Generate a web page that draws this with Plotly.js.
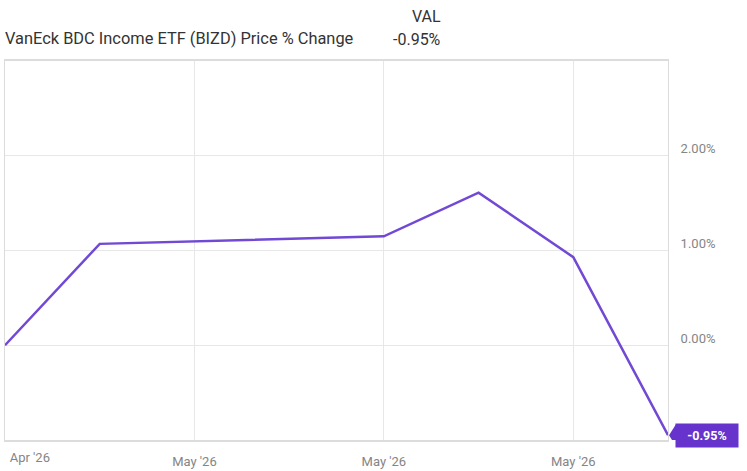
<!DOCTYPE html>
<html>
<head>
<meta charset="utf-8">
<script src="https://cdn.plot.ly/plotly-3.0.1.min.js"></script>
<style>
  html, body { margin: 0; padding: 0; background: #fff; }
  #chart { width: 747px; height: 471px; }
</style>
</head>
<body>
<div id="chart"></div>
<script>
// weekly closes, % change since start
var dates = ['2026-04-17', '2026-04-24', '2026-05-15', '2026-05-22', '2026-05-29', '2026-06-05']
var pctChange = [0, 1.07, 1.15, 1.61, 0.93, -0.95]

var yTicks = [0, 1, 2]
var yTickText = ['0.00%', '1.00%', '2.00%']
var xTicks = ['2026-05-01', '2026-05-15', '2026-05-29']
var xTickText = ["May '26", "May '26", "May '26"]
var startTick = ['2026-04-18 20:00']
var startTickText = ["Apr '26"]

var lastDate = dates[dates.length - 1]
var lastVal = pctChange[pctChange.length - 1]
var lastLabel = lastVal.toFixed(2) + '%'

var purple = '#7149d4'
var badge = '#6633cc'
var grid = '#e7e7e7'
var border = '#dcdcdc'
var tickColor = '#858585'

var traces = [
  {
    x: dates,
    y: pctChange,
    mode: 'lines',
    line: { color: purple, width: 2.5 },
    hoverinfo: 'skip',
    showlegend: false
  },
  {
    // keeps the second x axis (start label) alive
    x: dates,
    y: pctChange,
    xaxis: 'x2',
    mode: 'lines',
    opacity: 0,
    hoverinfo: 'skip',
    showlegend: false
  }
]

var layout = {
  width: 747,
  height: 471,
  margin: { l: 5, r: 79, t: 61, b: 31 },
  paper_bgcolor: '#fff',
  plot_bgcolor: '#fff',
  font: { family: 'Roboto, "Noto Sans", sans-serif', color: '#333' },
  title: {
    text: 'VanEck BDC Income ETF (BIZD) Price % Change',
    font: { size: 16.4, color: '#333' },
    xref: 'paper',
    x: 0,
    xanchor: 'left',
    y: 1 - 38 / 471,
    yanchor: 'middle'
  },
  xaxis: {
    type: 'date',
    range: [dates[0], lastDate],
    tickvals: xTicks,
    ticktext: xTickText,
    showgrid: true,
    gridcolor: grid,
    gridwidth: 1,
    zeroline: false,
    showline: true,
    linecolor: border,
    linewidth: 2,
    mirror: true,
    ticks: '',
    ticklabelstandoff: 8,
    tickfont: { size: 13, color: tickColor }
  },
  xaxis2: {
    type: 'date',
    overlaying: 'x',
    anchor: 'y',
    side: 'bottom',
    range: [dates[0], lastDate],
    tickvals: startTick,
    ticktext: startTickText,
    showgrid: false,
    zeroline: false,
    showline: false,
    ticks: '',
    ticklabelstandoff: 8,
    tickfont: { size: 13, color: tickColor }
  },
  yaxis: {
    range: [-1.0, 3.0],
    side: 'right',
    tickvals: yTicks,
    ticktext: yTickText,
    showgrid: true,
    gridcolor: grid,
    gridwidth: 1,
    zeroline: false,
    showline: true,
    linecolor: border,
    linewidth: 1,
    mirror: true,
    ticks: '',
    ticklabelstandoff: 9,
    ticklabelshift: -7,
    tickfont: { size: 13, color: tickColor }
  },
  shapes: [
    {
      type: 'path',
      xref: 'paper',
      yref: 'y',
      xsizemode: 'pixel',
      ysizemode: 'pixel',
      xanchor: 1,
      yanchor: lastVal,
      path: 'M1,0 L8,-11 L8,11 Z',
      fillcolor: badge,
      line: { width: 0 }
    }
  ],
  annotations: [
    {
      xref: 'paper',
      yref: 'paper',
      x: 0.66,
      y: 1 + (61 - 17) / 379,
      xanchor: 'right',
      yanchor: 'middle',
      text: 'VAL',
      showarrow: false,
      font: { size: 16, color: '#333' }
    },
    {
      xref: 'paper',
      yref: 'paper',
      x: 0.66,
      y: 1 + (61 - 39) / 379,
      xanchor: 'right',
      yanchor: 'middle',
      text: lastLabel,
      showarrow: false,
      font: { size: 16, color: '#333' }
    },
    {
      xref: 'paper',
      yref: 'y',
      x: 1,
      y: lastVal,
      xanchor: 'left',
      yanchor: 'middle',
      xshift: 7,
      text: '<b>' + lastLabel + '</b>',
      showarrow: false,
      bgcolor: badge,
      borderpad: 4,
      width: 54,
      font: { size: 12.5, color: '#fff' }
    }
  ]
}

Plotly.newPlot('chart', traces, layout, { staticPlot: true, displayModeBar: false })
</script>
</body>
</html>
